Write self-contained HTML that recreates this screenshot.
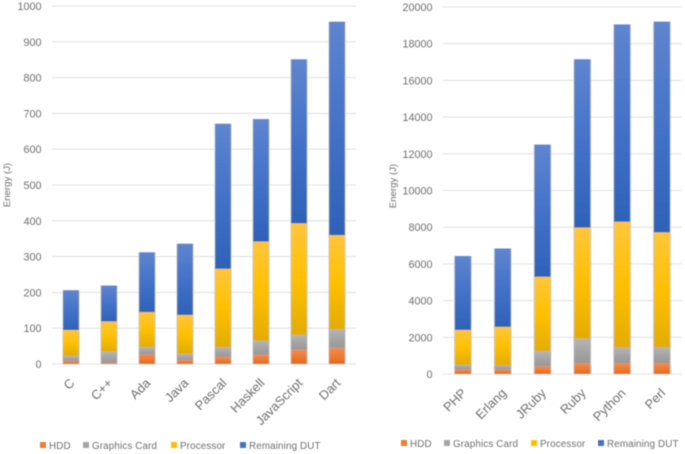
<!DOCTYPE html>
<html>
<head>
<meta charset="utf-8">
<style>
html,body{margin:0;padding:0;background:#fff;width:685px;height:454px;overflow:hidden}
svg{display:block;font-family:"Liberation Sans",sans-serif}
text{fill:#6e6e6e}
</style>
</head>
<body>
<svg id="chart" width="685" height="454" viewBox="0 0 685 454" xmlns="http://www.w3.org/2000/svg">
<defs>
<linearGradient id="g-hdd" x1="0" y1="0" x2="0" y2="1"><stop offset="0" stop-color="#f18d55"/><stop offset="0.5" stop-color="#ee7b30"/><stop offset="1" stop-color="#de6c20"/></linearGradient>
<linearGradient id="g-gfx" x1="0" y1="0" x2="0" y2="1"><stop offset="0" stop-color="#b5b5b5"/><stop offset="0.5" stop-color="#a5a5a5"/><stop offset="1" stop-color="#989898"/></linearGradient>
<linearGradient id="g-proc" x1="0" y1="0" x2="0" y2="1"><stop offset="0" stop-color="#ffc63c"/><stop offset="0.5" stop-color="#ffc000"/><stop offset="1" stop-color="#e3ac00"/></linearGradient>
<linearGradient id="g-dut" x1="0" y1="0" x2="0" y2="1"><stop offset="0" stop-color="#5f85cf"/><stop offset="0.5" stop-color="#4472c8"/><stop offset="1" stop-color="#2d62b8"/></linearGradient>
<filter id="soft" x="-5%" y="-5%" width="110%" height="110%"><feGaussianBlur stdDeviation="0.42"/></filter>
<filter id="bar-soft" x="-20%" y="-5%" width="140%" height="110%"><feGaussianBlur stdDeviation="0.3"/></filter>
</defs>
<g id="root" filter="url(#soft)"></g>
</svg>
<script>
const seriesNames = ["HDD", "Graphics Card", "Processor", "Remaining DUT"];
const seriesFills = ["url(#g-hdd)", "url(#g-gfx)", "url(#g-proc)", "url(#g-dut)"];
const legendColors = ["#ed7d31", "#a5a5a5", "#ffc000", "#4472c4"];

const leftCategories = ["C", "C++", "Ada", "Java", "Pascal", "Haskell", "JavaScript", "Dart"];
const leftHdd = [8, 3, 27, 11, 20, 26, 40, 45];
const leftGraphics = [15, 32, 20, 17, 27, 39, 41, 52];
const leftProcessor = [72, 84, 98, 109, 219, 277, 312, 263];
const leftRemaining = [111, 100, 167, 199, 405, 342, 458, 596];
const leftTicks = [0, 100, 200, 300, 400, 500, 600, 700, 800, 900, 1000];

const rightCategories = ["PHP", "Erlang", "JRuby", "Ruby", "Python", "Perl"];
const rightHdd = [250, 250, 430, 600, 600, 600];
const rightGraphics = [250, 220, 820, 1320, 850, 850];
const rightProcessor = [1900, 2100, 4050, 6060, 6850, 6270];
const rightRemaining = [4030, 4270, 7200, 9170, 10750, 11480];
const rightTicks = [0, 2000, 4000, 6000, 8000, 10000, 12000, 14000, 16000, 18000, 20000];

const NS = "http://www.w3.org/2000/svg";
const root = document.getElementById("root");

function make(tag, attrs, parent, text) {
  const el = document.createElementNS(NS, tag);
  for (const k in attrs) el.setAttribute(k, attrs[k]);
  if (text !== undefined) el.textContent = text;
  parent.appendChild(el);
  return el;
}

function drawChart(cfg) {
  const g = make("g", {}, root);
  
  
  const maxTick = cfg.ticks[cfg.ticks.length - 1];
  const yScale = v => cfg.y0 - (v / maxTick) * (cfg.y0 - cfg.y1);
  const xScale = i => cfg.x0 + cfg.step * (i + 0.5);

  cfg.ticks.forEach(t => {
    const line = make("line", {x1: cfg.x0, x2: cfg.x0 + cfg.step * cfg.categories.length, y1: yScale(t), y2: yScale(t), stroke: "#e2e2e2", "stroke-width": 1.1}, g);
    
    
    const label = make("text", {x: cfg.x0 - 10.5, y: yScale(t) + 4, "text-anchor": "end", "font-size": 10.8}, g, String(t));
    
    
  });

  const title = make("text", {transform: "translate(" + cfg.titleX + " " + cfg.titleY + ") rotate(-90)", "text-anchor": "middle", "font-size": 9.6}, g, "Energy (J)");
  
  

  const halos = make("g", {filter: "url(#bar-soft)"}, g);
  const bars = make("g", {filter: "url(#bar-soft)"}, g);
  cfg.categories.forEach((cat, i) => {
    let total = 0;
    cfg.series.forEach((vals, s) => {
      const top = yScale(total + vals[i]);
      const bottom = yScale(total);
      const seg = make("rect", {x: xScale(i) - cfg.barW / 2, y: top, width: cfg.barW, height: bottom - top, fill: seriesFills[s]}, bars);
      
      
      total += vals[i];
    });
    const halo = make("rect", {x: xScale(i) - cfg.barW / 2 - 0.8, y: yScale(total), width: cfg.barW + 1.6, height: cfg.y0 - yScale(total), fill: "#c8c8c8"}, halos);
    
    
    const px = xScale(i) - 2.5;
    const py = cfg.y0 + 13;
    const label = make("text", {transform: "translate(" + px + " " + py + ") rotate(-45)", "text-anchor": "end", "dominant-baseline": "hanging", "font-size": 12.8}, g, cat);
    
    
  });

  seriesNames.forEach((name, s) => {
    const lx = cfg.legendX[s];
    const swatch = make("rect", {x: lx, y: cfg.legendY - 3, width: 6, height: 6, fill: legendColors[s]}, g);
    
    
    const label = make("text", {x: lx + 9, y: cfg.legendY + 4, "font-size": 9.8, "letter-spacing": 0.15}, g, name);
    
    
  });
}

drawChart({
  name: "left-chart",
  categories: leftCategories,
  series: [leftHdd, leftGraphics, leftProcessor, leftRemaining],
  ticks: leftTicks,
  x0: 52, step: 38, y0: 364, y1: 6, barW: 15.5,
  titleX: 10, titleY: 185,
  legendX: [40, 83, 171, 240], legendY: 445
});

drawChart({
  name: "right-chart",
  categories: rightCategories,
  series: [rightHdd, rightGraphics, rightProcessor, rightRemaining],
  ticks: rightTicks,
  x0: 443, step: 39.8, y0: 374, y1: 7, barW: 16,
  titleX: 396, titleY: 186,
  legendX: [401, 444, 531, 598], legendY: 443
});
</script>
</body>
</html>
